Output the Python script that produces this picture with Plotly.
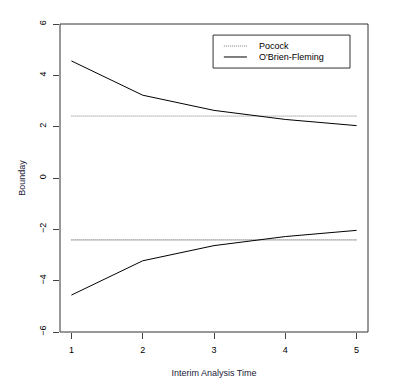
import plotly.graph_objects as go

analysis_time = [1, 2, 3, 4, 5]
pocock_upper = [2.413, 2.413, 2.413, 2.413, 2.413]
pocock_lower = [-2.413, -2.413, -2.413, -2.413, -2.413]
obf_upper = [4.562, 3.226, 2.634, 2.281, 2.040]
obf_lower = [-4.562, -3.226, -2.634, -2.281, -2.040]
x_ticks = [1, 2, 3, 4, 5]
y_ticks = [-6, -4, -2, 0, 2, 4, 6]
legend_labels = ["Pocock", "O'Brien-Fleming"]

FONT = "Liberation Sans, Arial, sans-serif"
POC_STYLE = dict(color="#7a7a7a", width=1, dash="1px,1px")
OBF_STYLE = dict(color="#000000", width=1)

fig = go.Figure()
fig.add_trace(go.Scatter(x=analysis_time, y=pocock_upper, mode="lines", name=legend_labels[0],
                         line=POC_STYLE, showlegend=False))
fig.add_trace(go.Scatter(x=analysis_time, y=obf_upper, mode="lines", name=legend_labels[1],
                         line=OBF_STYLE, showlegend=False))
fig.add_trace(go.Scatter(x=analysis_time, y=pocock_lower, mode="lines", name=legend_labels[0],
                         line=dict(POC_STYLE, color="#333333"), showlegend=False))
fig.add_trace(go.Scatter(x=analysis_time, y=obf_lower, mode="lines", name=legend_labels[1],
                         line=OBF_STYLE, showlegend=False))

axis_common = dict(showgrid=False, zeroline=False, showline=False, ticks="outside",
                   ticklen=6, tickwidth=1, tickcolor="#444444", automargin=False,
                   ticklabelstandoff=3,
                   tickfont=dict(family=FONT, size=9, color="#000000"))
fig.update_xaxes(range=[0.84, 5.16], tickvals=x_ticks, **axis_common,
                 title=dict(text="Interim Analysis Time", standoff=15,
                            font=dict(family=FONT, size=9, color="#1a1a3a")))
fig.update_yaxes(range=[-6, 6], tickvals=y_ticks, tickangle=-90, **axis_common,
                 title=dict(text="Bounday", standoff=11,
                            font=dict(family=FONT, size=9, color="#1a1a3a")))

# plot box
fig.add_shape(type="rect", xref="paper", yref="paper", x0=0, y0=0, x1=1, y1=1,
              line=dict(color="#333333", width=1))

# legend (drawn like R's legend())
fig.add_shape(type="rect", xref="paper", yref="paper", x0=0.497, y0=0.857, x1=0.9416, y1=0.964,
              line=dict(color="#333333", width=1), fillcolor="white")
legend_y = [0.9286, 0.8929]
legend_styles = [POC_STYLE, OBF_STYLE]
for lab, yy, st in zip(legend_labels, legend_y, legend_styles):
    fig.add_shape(type="line", xref="paper", yref="paper", x0=0.532, x1=0.607, y0=yy, y1=yy,
                  line=st)
    fig.add_annotation(xref="paper", yref="paper", x=0.6396, y=yy, text=lab, showarrow=False,
                       xanchor="left", yanchor="middle",
                       font=dict(family=FONT, size=9, color="#000000"))

fig.update_layout(
    width=400, height=385,
    margin=dict(l=60, r=32, t=24, b=53),
    paper_bgcolor="white", plot_bgcolor="white",
    showlegend=False,
)
fig.write_html("out.html", config={"displayModeBar": False},
               post_script="document.body.style.margin='0px';")
